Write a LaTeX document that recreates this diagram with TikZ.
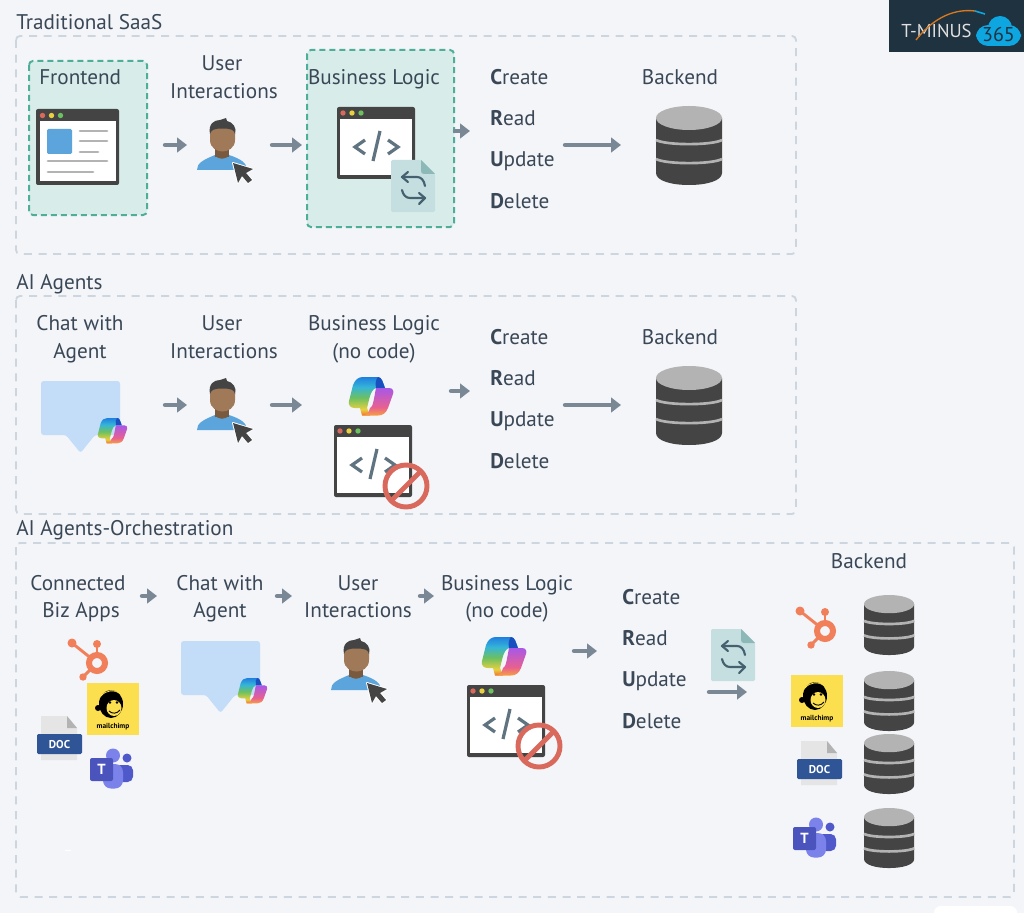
\documentclass[tikz,border=0pt]{standalone}
\usepackage{fontspec}
\setmainfont{PT Sans}
\usetikzlibrary{arrows.meta}
\definecolor{bg}{HTML}{F3F5F8}
\definecolor{txt}{HTML}{3A4756}
\definecolor{dashc}{HTML}{CDD6DE}
\definecolor{greenfill}{HTML}{D8EDEA}
\definecolor{greenline}{HTML}{4FAE9A}
\definecolor{arrowc}{HTML}{7A8896}
\definecolor{dark}{HTML}{444444}
\definecolor{midgrey}{HTML}{B3B3B3}
\definecolor{skin}{HTML}{A07A58}
\definecolor{skind}{HTML}{7A5A3E}
\definecolor{shirt}{HTML}{5BA4DC}
\definecolor{code}{HTML}{5F7480}
\definecolor{swapfill}{HTML}{C5DEE0}
\definecolor{swapfold}{HTML}{8DB8B8}
\definecolor{swapline}{HTML}{45606F}
\definecolor{bubble}{HTML}{C3DDF8}
\definecolor{nored}{HTML}{D8695C}
\definecolor{hub}{HTML}{F07F5A}
\definecolor{mc}{HTML}{FBDF4E}
\definecolor{docblue}{HTML}{2F5597}
\definecolor{teamsa}{HTML}{7B83EB}
\definecolor{teamsb}{HTML}{5059C9}
\definecolor{teamsc}{HTML}{4B53BC}
\definecolor{logobg}{HTML}{1F3240}
\definecolor{logoblue}{HTML}{0DA6E0}
\definecolor{logoor}{HTML}{D9791E}
\definecolor{cpa}{HTML}{1F7FE0}\definecolor{cpb}{HTML}{35B5D8}\definecolor{cpc}{HTML}{6CC060}
\definecolor{cpd}{HTML}{E8D040}\definecolor{cpe}{HTML}{F07030}
\definecolor{cpf}{HTML}{A858E8}\definecolor{cpg}{HTML}{E86090}\definecolor{cph}{HTML}{F8A040}
\definecolor{cpi}{HTML}{1A4FC0}
\pgfdeclareverticalshading{cpleft}{100bp}{color(0bp)=(cpe);color(25bp)=(cpe);color(33bp)=(cpd);color(48bp)=(cpc);color(62bp)=(cpb);color(75bp)=(cpa);color(100bp)=(cpa)}
\pgfdeclareverticalshading{cpright}{100bp}{color(0bp)=(cph);color(25bp)=(cph);color(40bp)=(cpg);color(75bp)=(cpf);color(100bp)=(cpf)}
\tikzset{
  x=0.75pt,y=-0.75pt,
  lbl/.style={font=\fontsize{15.9}{17}\selectfont,text=txt,inner sep=0pt,yshift=-3.2pt},
  lblw/.style={lbl,anchor=mid west},
  lblc/.style={lbl,anchor=mid},
  outerbox/.style={draw=dashc,line width=1.4pt,rounded corners=3pt,dash pattern=on 6pt off 5pt},
  greenbox/.style={draw=greenline,fill=greenfill,line width=1.5pt,rounded corners=3pt,dash pattern=on 4.5pt off 3pt},
  flow/.style={draw=arrowc,line width=3.2pt,line cap=round,-{Triangle[length=7.5pt,width=11pt]}},
  greybar/.style={draw=midgrey,line width=2.2pt,line cap=round},
  codeline/.style={draw=code,line width=2.4pt},
  swapline/.style={draw=swapline,line width=1.6pt,line cap=round,line join=round},
}
% flow arrow between two named coordinates
\newcommand{\flowarrow}[4]{\coordinate (#1s) at (#2,#3);\coordinate (#1e) at (#4,#3);\draw[flow] (#1s) -- (#1e);}
% CRUD list
\newcommand{\crud}[6]{%
  \node[lblw] (#1c) at (#2,#3) {\textbf{C}reate};
  \node[lblw] (#1r) at (#2,#4) {\textbf{R}ead};
  \node[lblw] (#1u) at (#2,#5) {\textbf{U}pdate};
  \node[lblw] (#1d) at (#2,#6) {\textbf{D}elete};}
% code window
\newcommand{\codewindow}[2]{\begin{scope}[shift={(#1,#2)}]
  \fill[dark,rounded corners=1.5pt] (0,0) rectangle (78,72);
  \fill[white] (3,12) rectangle (75,68);
  \fill[nored] (6,6) circle[radius=2.7];
  \fill[cpd] (15,6) circle[radius=2.7];
  \fill[cpc] (24,6) circle[radius=2.7];
  \draw[codeline] (28,33) -- (18,40) -- (28,47);
  \draw[codeline] (51,33) -- (61,40) -- (51,47);
  \draw[codeline] (43,24) -- (36,54);
\end{scope}}
\newcommand{\nosign}[2]{\draw[nored,line width=3.7pt] (#1,#2) circle[radius=21];
  \draw[nored,line width=3.7pt] (#1+15,#2-15) -- (#1-15,#2+15);}
\newcommand{\person}[2]{\begin{scope}[shift={(#1,#2)}]
  \fill[shirt] (197,170) .. controls (197,163) and (203,160) .. (215,155) -- (229,155) .. controls (241,159) and (247,163) .. (247,170) -- cycle;
  \fill[skind] (215,148) rectangle (229,157);
  \fill[skind] (215,155) .. controls (218,160) and (226,160) .. (229,155) -- cycle;
  \fill[skin] (210,128) -- (235,128) -- (235,140) .. controls (235,148) and (228,151.5) .. (222.5,151.5) .. controls (217,151.5) and (210,148) .. (210,140) -- cycle;
  \fill[dark] (210,134) .. controls (208,124) and (214,120) .. (220,120) -- (226,118) -- (227,121) .. controls (233,122) and (237,128) .. (235,134) .. controls (234,130) and (232,128.5) .. (222,128.5) .. controls (214,128.5) and (211,130) .. (210,134) -- cycle;
  \fill[white,draw=white,line width=1.4pt,line join=round] (233,163) -- (238,183) -- (242,176) -- (248,183) -- (252,180) -- (246,173) -- (253,169) -- cycle;
  \fill[dark] (233,163) -- (238,183) -- (242,176) -- (248,183) -- (252,180) -- (246,173) -- (253,169) -- cycle;
\end{scope}}
\newcommand{\database}[3]{\begin{scope}[shift={(#1,#2)},scale=#3]
  \fill[dark] (0,12) -- (66,12) -- (66,67) .. controls (66,75) and (50,79) .. (33,79) .. controls (16,79) and (0,75) .. (0,67) -- cycle;
  \draw[midgrey,line width=2pt] (0,34) .. controls (10,39.5) and (56,39.5) .. (66,34);
  \draw[midgrey,line width=2pt] (0,53) .. controls (10,58.5) and (56,58.5) .. (66,53);
  \fill[midgrey] (33,12) ellipse[x radius=33,y radius=12];
\end{scope}}
\newcommand{\copilot}[3]{\begin{scope}[shift={(#1,#2)},scale=#3]
  \shade[shading=cpleft] (29,0) -- (14,0) .. controls (9,0) and (6,3) .. (4,8) -- (0,24) .. controls (-1,29) and (2,31) .. (6,31) -- (11,31) -- (13,38.5) -- (21,38.5) -- (18,31) .. controls (20,24) and (21,13) .. (27,11) -- (36,11) .. controls (34,6) and (33,0) .. (29,0) -- cycle;
  \fill[cpi] (29,0) .. controls (33,0) and (34,6) .. (36,11) -- (27,11) .. controls (26,6) and (27,2) .. (29,0) -- cycle;
  \shade[shading=cpright] (27,11) -- (40,11) .. controls (44,11) and (45,14) .. (44,17) -- (39,31) .. controls (37,36) and (34,38.5) .. (29,38.5) -- (13,38.5) .. controls (18,38.5) and (20,35) .. (21,31) .. controls (24,31) and (25,21) .. (27,11) -- cycle;
\end{scope}}
\newcommand{\swapdoc}[2]{\begin{scope}[shift={(#1,#2)}]
  \fill[swapfill,rounded corners=1pt] (0,0) -- (30,0) -- (44,14) -- (44,52) -- (0,52) -- cycle;
  \fill[swapfold] (30,0) -- (44,14) -- (33,14) .. controls (31,14) and (30,13) .. (30,11) -- cycle;
  \draw[swapline] (34,26) .. controls (33,20) and (30,17) .. (26,17) -- (11,17);
  \draw[swapline] (17,12) -- (11,17) -- (17,22);
  \draw[swapline] (11,30) .. controls (12,35) and (15,38) .. (19,38) -- (34,38);
  \draw[swapline] (28,33) -- (34,38) -- (28,44);
\end{scope}}
\newcommand{\bubbleicon}[2]{\fill[bubble,shift={(#1,#2)},rounded corners=2pt] (0,0) -- (79,0) -- (79,54) -- (54,54) -- (39.5,72) -- (25,54) -- (0,54) -- cycle;}
\newcommand{\hubspot}[2]{\begin{scope}[shift={(#1,#2)}]
  \draw[hub,line width=2.2pt] (72,643) -- (97,663);
  \draw[hub,line width=2.2pt] (97,644) -- (97,663);
  \draw[hub,line width=2.2pt] (83,677) -- (97,663);
  \fill[hub] (72,643) circle[radius=4.5];
  \fill[hub] (97,644) circle[radius=4];
  \fill[hub] (83,677) circle[radius=3.7];
  \draw[hub,line width=4.5pt,fill=bg] (97,663) circle[radius=8];
\end{scope}}
\newcommand{\mailchimp}[3]{\begin{scope}[shift={(#1,#2)}]
  \fill[mc] (0,0) rectangle (52,52);
  \fill[black] (24,21) ellipse[x radius=12,y radius=14];
  \fill[black] (11,25) circle[radius=3];
  \draw[mc,line width=.6pt] (14,13) .. controls (19,7) and (27,6) .. (34,11);
  \fill[mc] (27,25) ellipse[x radius=7.5,y radius=8];
  \fill[black] (23,19.5) circle[radius=1.3];
  \fill[black] (30,19.5) circle[radius=1.3];
  \draw[black,line width=.7pt] (22,28) .. controls (25,31) and (30,31) .. (33,27);
  \node[font=\fontsize{5.5}{6}\selectfont\bfseries,text=black,inner sep=0pt] (#3) at (26,44) {mailchimp};
\end{scope}}
\newcommand{\docicon}[3]{\begin{scope}[shift={(#1,#2)}]
  \fill[black!10] (4,0) -- (30,0) -- (40,12) -- (40,44) -- (4,44) -- cycle;
  \fill[midgrey] (30,0) -- (40,12) -- (30,12) -- cycle;
  \fill[docblue,rounded corners=1pt] (0,18) rectangle (45,38);
  \node[font=\fontsize{8.5}{9}\selectfont\bfseries,text=white,inner sep=0pt] (#3) at (22.5,28.5) {DOC};
\end{scope}}
\newcommand{\teams}[3]{\begin{scope}[shift={(#1,#2)}]
  \fill[teamsa] (23,5.5) circle[radius=7];
  \fill[teamsb] (37,8) circle[radius=4.5];
  \fill[teamsb,rounded corners=4pt] (25,15) -- (43,15) -- (43,32) -- (25,32) -- cycle;
  \fill[teamsa,rounded corners=6pt] (13,14) -- (33,14) -- (33,38.5) -- (13,38.5) -- cycle;
  \fill[teamsc,rounded corners=1.5pt] (0,8) rectangle (23,31);
  \node[font=\fontsize{11}{12}\selectfont\bfseries,text=white,inner sep=0pt] (#3) at (11.5,19) {T};
\end{scope}}
\begin{document}
\begin{tikzpicture}
\useasboundingbox (0,0) rectangle (1024,913);
\fill[bg] (0,0) rectangle (1024,913);
\fill[white,rounded corners=5pt] (934,906) rectangle (1017,920);
\fill[white] (65,849.5) rectangle (71,851);

% logo
\fill[logobg] (889,0) rectangle (1024,52);
\fill[logoblue,rounded corners=9pt] (976,25) rectangle (1021,46);
\fill[logoblue] (1000,28) circle[radius=12];
\node[font=\fontsize{14}{15}\selectfont,text=black!12,inner sep=0pt,anchor=mid west] (logotext) at (901,34) {T-MINUS};
\draw[logoor,line width=1pt] (916,40) .. controls (930,22) and (950,8) .. (975,11);
\draw[logoblue,line width=1.2pt] (975,11) -- (985,14);
\node[font=\fontsize{15}{16}\selectfont,text=logobg,inner sep=0pt] (logonum) at (998.5,35) {365};

% section boxes
\draw[outerbox] (16,36) rectangle (796,254);
\draw[outerbox] (16,296) rectangle (796,514);
\draw[outerbox] (16,543) rectangle (1014,897);
\draw[greenbox] (29,61) rectangle (147,215);
\draw[greenbox] (307,50) rectangle (454,227);

% titles
\node[lblw] (t1) at (16,22) {Traditional SaaS};
\node[lblw] (t2) at (16,282) {AI Agents};
\node[lblw] (t3) at (16,528) {AI Agents-Orchestration};

% --- row 1
\node[lblw] (front) at (39,77) {Frontend};
\node[lblc] (u1a) at (222,63) {User};
\node[lblc] (u1b) at (224,91) {Interactions};
\node[lblc] (bl1) at (374,77) {Business Logic};
\crud{a}{490}{77}{118}{159}{201}
\node[lblc] (be1) at (680,77) {Backend};
% frontend window
\fill[dark,rounded corners=1.5pt] (36,109) rectangle (119,185);
\fill[white] (39.5,121) rectangle (116,181.5);
\fill[nored] (42.5,115.5) circle[radius=2.7];
\fill[cpd] (51.5,115.5) circle[radius=2.7];
\fill[cpc] (60.5,115.5) circle[radius=2.7];
\fill[shirt,rounded corners=1pt] (47,129) rectangle (72,154);
\draw[greybar] (80,131) -- (107,131);
\draw[greybar] (80,141) -- (107,141);
\draw[greybar] (80,152) -- (98,152);
\draw[greybar] (48,161) -- (107,161);
\draw[greybar] (48,172) -- (93,172);
\person{0}{0}
\codewindow{337}{107}
\swapdoc{391}{160}
\database{656}{106}{1}
\flowarrow{f1}{165}{145}{187}
\flowarrow{f2}{272}{145}{302}
\flowarrow{f3}{455}{131}{470}
\flowarrow{f4}{565}{145}{621}

% --- row 2
\node[lblc] (c2a) at (80,323) {Chat with};
\node[lblc] (c2b) at (80,351) {Agent};
\node[lblc] (u2a) at (222,323) {User};
\node[lblc] (u2b) at (224,351) {Interactions};
\node[lblc] (bl2) at (374,323) {Business Logic};
\node[lblc] (nc2) at (374,351) {(no code)};
\crud{b}{490}{337}{378}{419}{461}
\node[lblc] (be2) at (680,337) {Backend};
\bubbleicon{41}{381}
\copilot{98}{418}{.66}
\person{0}{260}
\copilot{349}{377}{1}
\codewindow{334}{425}
\nosign{406}{486}
\database{656}{366}{1}
\flowarrow{g1}{165}{405}{187}
\flowarrow{g2}{272}{405}{302}
\flowarrow{g3}{451}{391}{470}
\flowarrow{g4}{565}{405}{621}

% --- row 3
\node[lblc] (c3) at (78,583) {Connected};
\node[lblc] (c3b) at (81,610) {Biz Apps};
\node[lblc] (c3c) at (220,583) {Chat with};
\node[lblc] (c3d) at (220,610) {Agent};
\node[lblc] (u3a) at (358,583) {User};
\node[lblc] (u3b) at (358,610) {Interactions};
\node[lblc] (bl3) at (507,583) {Business Logic};
\node[lblc] (nc3) at (507,610) {(no code)};
\crud{c}{622}{597}{638}{679}{721}
\node[lblc] (be3) at (869,561) {Backend};
\hubspot{0}{0}
\mailchimp{87}{683}{mc1}
\docicon{37}{716}{doc1}
\teams{90}{750}{te1}
\bubbleicon{181}{641}
\copilot{238}{678}{.66}
\person{134}{520}
\copilot{482}{637}{1}
\codewindow{467}{685}
\nosign{539}{746}
\swapdoc{711}{629}
\hubspot{728}{-32}
\mailchimp{791}{675}{mc2}
\docicon{797}{741}{doc2}
\teams{793}{819}{te2}
\database{864}{595}{.76}
\database{864}{671}{.76}
\database{864}{734}{.76}
\database{864}{808}{.76}
\flowarrow{h1}{142}{596}{157}
\flowarrow{h2}{277}{596}{292}
\flowarrow{h3}{420}{596}{434}
\flowarrow{h4}{574}{651}{597}
\flowarrow{h5}{709}{692}{747}
\end{tikzpicture}
\end{document}
